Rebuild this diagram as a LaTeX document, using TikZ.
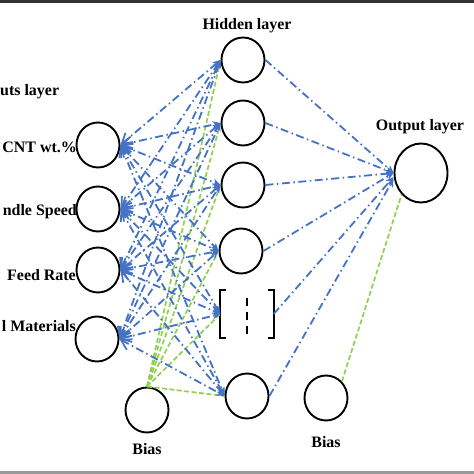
\documentclass[tikz,border=0pt]{standalone}
\usepackage{fontspec}
\setmainfont{Liberation Serif}
\usetikzlibrary{arrows.meta,shapes.geometric}
\definecolor{lnblue}{HTML}{4472C4}
\definecolor{lngreen}{HTML}{92D050}
\tikzset{
  neuron/.style={ellipse,draw=black,line width=1.9bp,minimum width=43bp,minimum height=45bp,inner sep=0pt},
  outneuron/.style={ellipse,draw=black,line width=1.9bp,minimum width=53bp,minimum height=59bp,inner sep=0pt},
  lbl/.style={font=\bfseries\fontsize{16}{18}\selectfont,inner sep=0pt},
  wline/.style={draw=lnblue,line width=1.8bp,dash pattern=on 8bp off 3.5bp on 1.5bp off 3.5bp,
     arrows={Straight Barb[length=10bp,width=12bp,line width=1.7bp]-Stealth[length=8bp,width=7bp]}},
  oline/.style={draw=lnblue,line width=1.8bp,dash pattern=on 8bp off 3.5bp on 1.5bp off 3.5bp,
     arrows={-Stealth[length=8bp,width=7bp]}},
  bline/.style={draw=lngreen,line width=1.7bp,dash pattern=on 5bp off 2.5bp},
}
\begin{document}
\begin{tikzpicture}[x=1bp,y=-1bp]
\useasboundingbox (0,0) rectangle (474,474);
\fill[white] (0,0) rectangle (474,474);
\fill[black!80] (0,0) rectangle (474,3);
\fill[black!40] (0,471) rectangle (474,474);
% input nodes
\node[neuron] (i1) at (98,145) {};
\node[neuron] (i2) at (98,209) {};
\node[neuron] (i3) at (98,270) {};
\node[neuron] (i4) at (97,339) {};
% hidden nodes
\node[neuron] (h1) at (243,60) {};
\node[neuron] (h2) at (243,123) {};
\node[neuron] (h3) at (243,185) {};
\node[neuron] (h4) at (241,251) {};
\node[minimum width=53bp,minimum height=48bp,inner sep=0pt] (h5) at (247,314) {};
\node[neuron] (h6) at (247,396) {};
% output
\node[outneuron] (o) at (421,173) {};
% bias
\node[neuron] (b1) at (147,410) {};
\node[neuron] (b2) at (326,398) {};
% bracket
\draw[line width=1.9bp] ([xshift=6bp]h5.north west) -- (h5.north west) -- (h5.south west) -- ([xshift=6bp]h5.south west);
\draw[line width=1.9bp] ([xshift=-6bp]h5.north east) -- (h5.north east) -- (h5.south east) -- ([xshift=-6bp]h5.south east);
\draw[line width=1.9bp,dash pattern=on 8bp off 6bp] ([yshift=-8bp]h5.north) -- ([yshift=1bp]h5.south);
% labels
\node[lbl] (lh) at (247,26) {Hidden layer};
\node[lbl] (lo) at (420,127) {Output layer};
\node[lbl,anchor=west] (li) at (0,92) {uts layer};
\node[lbl,anchor=east] (l1) at (77,147) {CNT wt.\%};
\node[lbl,anchor=east] (l2) at (77,212) {ndle Speed};
\node[lbl,anchor=east] (l3) at (76,275) {Feed Rate};
\node[lbl,anchor=east] (l4) at (76,326) {l Materials};
\node[lbl] (lb1) at (147,449) {Bias};
\node[lbl] (lb2) at (326,442) {Bias};
% bias connections
\foreach \h in {h1,h2,h3,h4,h5,h6}{
  \draw[bline] (b1.north) -- (\h.west);
}
\draw[bline] (b2.north east) -- (o.south west);
% input to hidden
\foreach \i in {i1,i2,i3,i4}{
  \foreach \h in {h1,h2,h3,h4,h5,h6}{
    \draw[wline] (\i.east) -- (\h.west);
  }
}
% hidden to output
\draw[oline] (h1.east) -- (o.west);
\draw[oline] (h2.east) -- (o.west);
\draw[oline] (h3.east) -- (o.west);
\draw[oline] (h4.east) -- (o.west);
\draw[oline] (h5.east) -- ([yshift=-4bp]o.west);
\draw[oline] (h6.east) -- ([yshift=-6bp]o.west);
\end{tikzpicture}
\end{document}
